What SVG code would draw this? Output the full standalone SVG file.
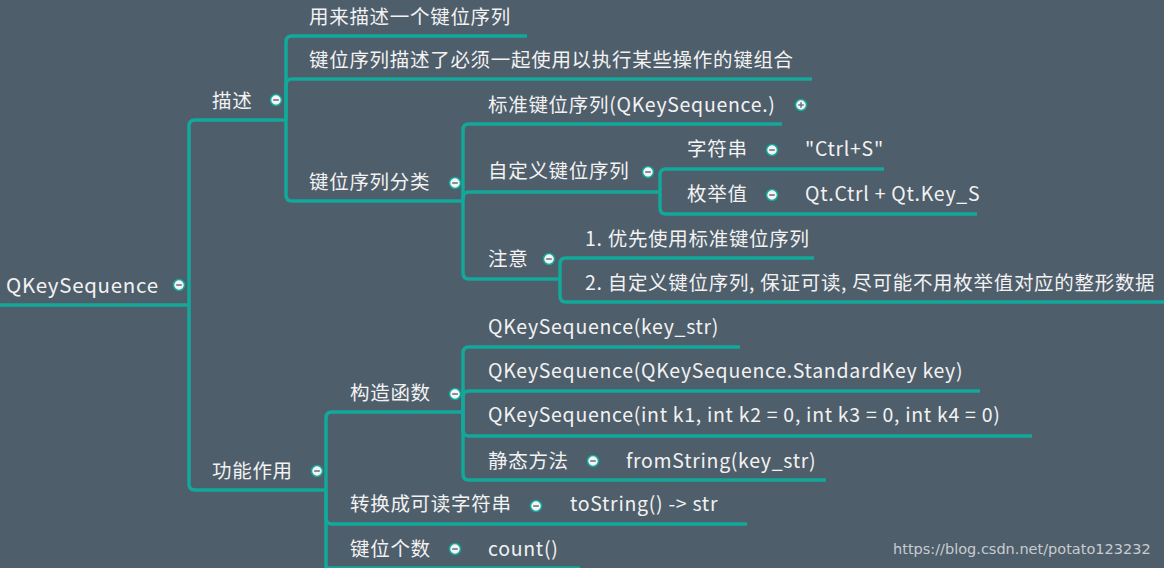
<svg xmlns="http://www.w3.org/2000/svg" xmlns:xlink="http://www.w3.org/1999/xlink" width="1164" height="568" viewBox="0 0 1164 568">
<style>
text{font-family:"Noto Sans CJK SC","Liberation Sans",sans-serif;font-size:19.5px;letter-spacing:0.7px;fill:#f2f2f2}
.c{fill:none;stroke:#12a89a;stroke-width:3.5;stroke-linejoin:round}
.wm{font-size:14.5px;letter-spacing:0;fill:#c8ccd0;font-family:"DejaVu Sans",sans-serif}
</style>
<defs>
<g id="minus"><circle r="5.5" fill="#f4f4f4" stroke="#12a89a" stroke-width="1.5"/><path d="M-2.8,0H2.8" stroke="#6b7785" stroke-width="1.6"/></g>
<g id="plus"><circle r="5.5" fill="#f4f4f4" stroke="#12a89a" stroke-width="1.5"/><path d="M-2.8,0H2.8M0,-2.8V2.8" stroke="#6b7785" stroke-width="1.6"/></g>
</defs>
<rect width="1164" height="568" fill="#4f5e6b"/>
<g id="connectors">
<path class="c" d="M0,305H189"/>
<path class="c" d="M189,305V126Q189,120 195,120H286"/>
<path class="c" d="M189,305V484Q189,490 195,490H326"/>
<path class="c" d="M286,120V42Q286,36 292,36H527"/>
<path class="c" d="M286,120V85Q286,79 292,79H812"/>
<path class="c" d="M286,120V195Q286,201 292,201H463"/>
<path class="c" d="M463,201V130Q463,124 469,124H782"/>
<path class="c" d="M463,201V198Q463,192 469,192H660"/>
<path class="c" d="M463,201V273Q463,279 469,279H560"/>
<path class="c" d="M660,192V175Q660,169 666,169H884"/>
<path class="c" d="M660,192V208Q660,214 666,214H977"/>
<path class="c" d="M560,279V264Q560,258 566,258H814"/>
<path class="c" d="M560,279V296Q560,302 566,302H1164"/>
<path class="c" d="M326,490V418Q326,412 332,412H463"/>
<path class="c" d="M326,490V518Q326,524 332,524H747"/>
<path class="c" d="M326,490V568H580"/>
<path class="c" d="M463,412V353Q463,347 469,347H740"/>
<path class="c" d="M463,412V397Q463,391 469,391H980"/>
<path class="c" d="M463,412V430Q463,436 469,436H1032"/>
<path class="c" d="M463,412V474Q463,480 469,480H826"/>
</g>
<g id="root"><text x="6" y="293" style="font-size:20.5px">QKeySequence</text><use href="#minus" x="179" y="285"/></g>
<g id="miaoshu"><text x="212" y="108">描述</text><use href="#minus" x="276" y="100"/></g>
<g id="d1"><text x="309" y="24">用来描述一个键位序列</text></g>
<g id="d2"><text x="309" y="67">键位序列描述了必须一起使用以执行某些操作的键组合</text></g>
<g id="fenlei"><text x="309" y="189">键位序列分类</text><use href="#minus" x="455" y="183"/></g>
<g id="std"><text x="488" y="112">标准键位序列(QKeySequence.)</text><use href="#plus" x="801" y="105"/></g>
<g id="custom"><text x="488" y="178">自定义键位序列</text><use href="#minus" x="648" y="172"/></g>
<g id="str"><text x="687" y="156">字符串</text><use href="#minus" x="772" y="150"/><text x="805" y="156">"Ctrl+S"</text></g>
<g id="enum"><text x="687" y="201">枚举值</text><use href="#minus" x="772" y="195"/><text x="805" y="201">Qt.Ctrl + Qt.Key_S</text></g>
<g id="note"><text x="488" y="266">注意</text><use href="#minus" x="549" y="259"/></g>
<g id="n1"><text x="585" y="246">1. 优先使用标准键位序列</text></g>
<g id="n2"><text x="585" y="290">2. 自定义键位序列, 保证可读, 尽可能不用枚举值对应的整形数据</text></g>
<g id="func"><text x="212" y="478">功能作用</text><use href="#minus" x="317" y="471"/></g>
<g id="ctor"><text x="350" y="400">构造函数</text><use href="#minus" x="455" y="394"/></g>
<g id="c1"><text x="488" y="334">QKeySequence(key_str)</text></g>
<g id="c2"><text x="488" y="378">QKeySequence(QKeySequence.StandardKey key)</text></g>
<g id="c3"><text x="488" y="422">QKeySequence(int k1, int k2 = 0, int k3 = 0, int k4 = 0)</text></g>
<g id="static"><text x="488" y="468">静态方法</text><use href="#minus" x="593" y="461"/><text x="626" y="468">fromString(key_str)</text></g>
<g id="tostr"><text x="350" y="511">转换成可读字符串</text><use href="#minus" x="536" y="506"/><text x="570" y="511">toString() -&gt; str</text></g>
<g id="count"><text x="350" y="556">键位个数</text><use href="#minus" x="455" y="549"/><text x="488" y="556">count()</text></g>
<text class="wm" x="893" y="554">https://blog.csdn.net/potato123232</text>
</svg>
